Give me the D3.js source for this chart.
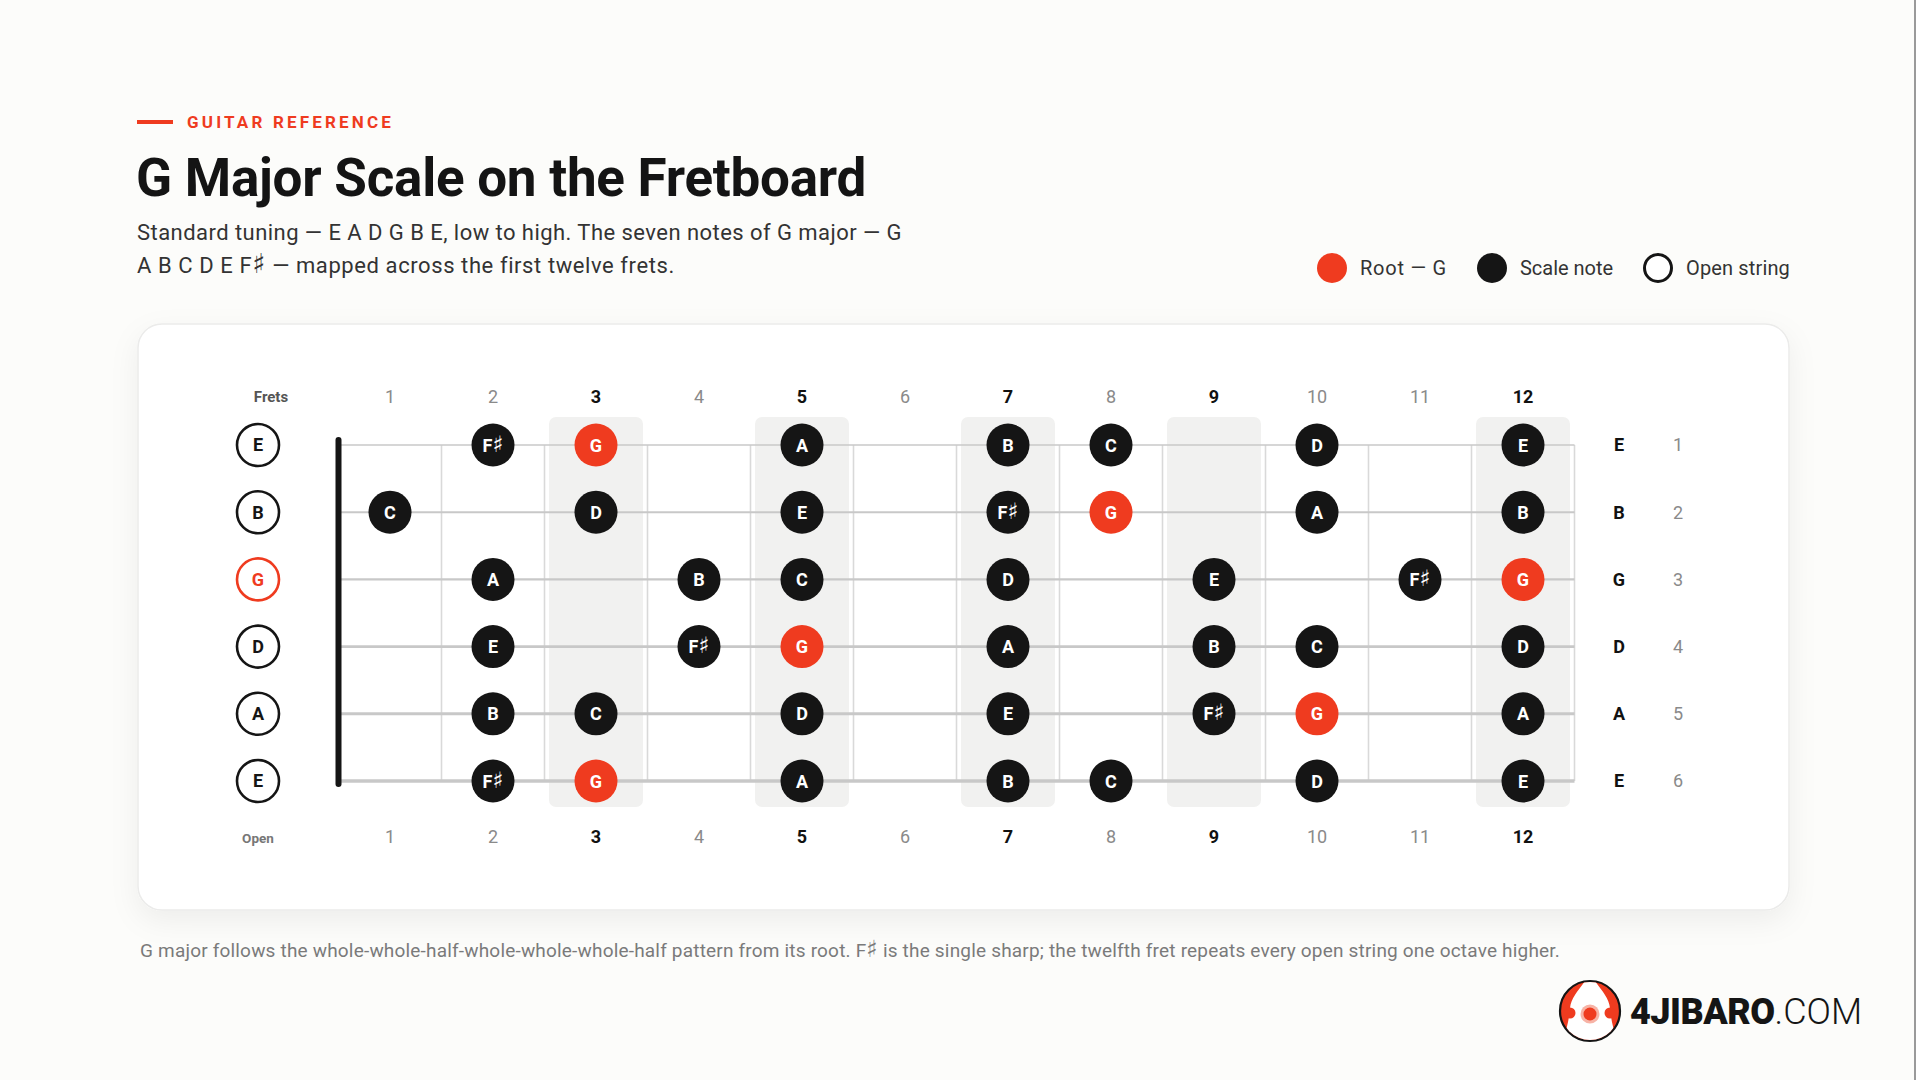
<!DOCTYPE html>
<html lang="en">
<head>
    <meta charset="UTF-8">
    <title>G Major Scale on the Fretboard</title>
    <script src="https://cdn.jsdelivr.net/npm/d3@7"></script>
    <style>
        html, body { margin: 0; padding: 0; background: #fcfcfa; overflow: hidden; }
        svg { display: block; font-family: Roboto, "Noto Sans", sans-serif; }
    </style>
</head>
<body>
<script type="text/javascript">
    var width = 1916;
    var height = 1080;

    // strings, top (1, high E) to bottom (6, low E)
    var stringNames = ["E", "B", "G", "D", "A", "E"];
    var stringNumbers = [1, 2, 3, 4, 5, 6];
    var fretNumbers = [1, 2, 3, 4, 5, 6, 7, 8, 9, 10, 11, 12];
    var markerFrets = [3, 5, 7, 9, 12];
    var rootNote = "G";

    // fret of every scale note on each string
    var noteFrets = [
        [2, 3, 5, 7, 8, 10, 12],
        [1, 3, 5, 7, 8, 10, 12],
        [2, 4, 5, 7, 9, 11, 12],
        [2, 4, 5, 7, 9, 10, 12],
        [2, 3, 5, 7, 9, 10, 12],
        [2, 3, 5, 7, 8, 10, 12]
    ];
    var noteNames = [
        ["F♯", "G", "A", "B", "C", "D", "E"],
        ["C", "D", "E", "F♯", "G", "A", "B"],
        ["A", "B", "C", "D", "E", "F♯", "G"],
        ["E", "F♯", "G", "A", "B", "C", "D"],
        ["B", "C", "D", "E", "F♯", "G", "A"],
        ["F♯", "G", "A", "B", "C", "D", "E"]
    ];

    var legendItems = ["Root — G", "Scale note", "Open string"];

    var red = "#ef3b1f";
    var ink = "#151515";

    var svg = d3.select("body").append("svg")
            .attr("width", width)
            .attr("height", height);

    // squeeze/stretch tracking so a text line spans the width seen in the picture
    function fit(sel, target) {
        var w = sel.node().getComputedTextLength();
        var n = sel.text().length;
        sel.attr("letter-spacing", (target - w) / n);
        return sel;
    }

    // write text, drawing the sharp sign bigger with a font that has one
    function sharpText(sel, str) {
        str.split(/(♯)/).forEach(function (part) {
            if (!part) return;
            var t = sel.append("tspan").text(part);
            if (part === "♯") {
                t.attr("font-family", "'DejaVu Sans', sans-serif")
                 .attr("font-weight", 400)
                 .attr("font-size", "1.25em");
            }
        });
        return sel;
    }

    var defs = svg.append("defs");
    var shadow = defs.append("filter").attr("id", "cardShadow")
            .attr("x", "-5%").attr("y", "-10%").attr("width", "110%").attr("height", "130%");
    shadow.append("feDropShadow")
            .attr("dx", 0).attr("dy", 10).attr("stdDeviation", 14)
            .attr("flood-color", "#000").attr("flood-opacity", 0.06);

    // right border of the page
    svg.append("line")
            .attr("x1", 1915).attr("x2", 1915).attr("y1", 0).attr("y2", height)
            .attr("stroke", "#9a9a9a").attr("stroke-width", 2);

    // ---------- header ----------
    svg.append("rect")
            .attr("x", 137).attr("y", 120).attr("width", 36).attr("height", 4)
            .attr("fill", red);
    fit(svg.append("text")
            .attr("x", 187).attr("y", 128)
            .attr("font-size", 17).attr("font-weight", 700)
            .attr("fill", red)
            .text("GUITAR REFERENCE"), 207);

    fit(svg.append("text")
            .attr("x", 136).attr("y", 196)
            .attr("font-size", 53).attr("font-weight", 700)
            .attr("fill", "#141414")
            .text("G Major Scale on the Fretboard"), 730);

    fit(svg.append("text")
            .attr("x", 137).attr("y", 240)
            .attr("font-size", 22).attr("fill", "#333")
            .text("Standard tuning — E A D G B E, low to high. The seven notes of G major — G"), 765);
    fit(sharpText(svg.append("text")
            .attr("x", 137).attr("y", 273)
            .attr("font-size", 22).attr("fill", "#333"),
            "A B C D E F♯ — mapped across the first twelve frets."), 537);

    // ---------- legend ----------
    var legendX = [1332, 1492, 1658];
    var legendW = [87, 93, 104];
    var legend = svg.append("g").selectAll("g")
            .data(legendItems)
            .enter().append("g")
            .attr("transform", function (d, i) { return "translate(" + legendX[i] + ",268)"; });
    legend.append("circle")
            .attr("r", function (d, i) { return i === 2 ? 13.5 : 15; })
            .attr("fill", function (d, i) { return i === 0 ? red : (i === 1 ? ink : "#fff"); })
            .attr("stroke", function (d, i) { return i === 2 ? ink : "none"; })
            .attr("stroke-width", 3);
    legend.append("text")
            .attr("x", 28).attr("y", 7)
            .attr("font-size", 20).attr("fill", "#333")
            .text(function (d) { return d; })
            .each(function (d, i) { fit(d3.select(this), legendW[i]); });

    // ---------- card ----------
    svg.append("rect")
            .attr("x", 138).attr("y", 324).attr("width", 1651).attr("height", 586)
            .attr("rx", 24)
            .attr("fill", "#fff")
            .attr("stroke", "#ebebea").attr("stroke-width", 1.5)
            .attr("filter", "url(#cardShadow)");

    // ---------- fretboard scales ----------
    var xScale = d3.scaleLinear()
            .domain([0, 12])
            .range([338.5, 1574.5]);
    var noteX = function (f) { return xScale(f - 0.5); };
    var yScale = d3.scalePoint()
            .domain(stringNumbers)
            .range([445, 781]);

    var board = svg.append("g");

    // marker columns
    board.selectAll("rect.marker")
            .data(markerFrets)
            .enter().append("rect")
            .attr("class", "marker")
            .attr("x", function (d) { return noteX(d) - 47; })
            .attr("y", 417).attr("width", 94).attr("height", 390)
            .attr("rx", 7)
            .attr("fill", "#f1f1f0");

    // fret wires
    board.selectAll("line.fret")
            .data(fretNumbers)
            .enter().append("line")
            .attr("class", "fret")
            .attr("x1", function (d) { return xScale(d); })
            .attr("x2", function (d) { return xScale(d); })
            .attr("y1", yScale(1)).attr("y2", yScale(6))
            .attr("stroke", "#d9d9d9").attr("stroke-width", 1.6);

    // strings, thicker toward the low E
    board.selectAll("line.string")
            .data(stringNumbers)
            .enter().append("line")
            .attr("class", "string")
            .attr("x1", xScale(0)).attr("x2", xScale(12))
            .attr("y1", function (d) { return yScale(d); })
            .attr("y2", function (d) { return yScale(d); })
            .attr("stroke", "#c8c8c8")
            .attr("stroke-width", function (d) { return 1.3 + d * 0.35; });

    // nut
    board.append("line")
            .attr("x1", xScale(0)).attr("x2", xScale(0))
            .attr("y1", 440).attr("y2", 784)
            .attr("stroke", ink).attr("stroke-width", 6)
            .attr("stroke-linecap", "round");

    // fret numbers top and bottom
    [397, 837].forEach(function (y) {
        board.append("g").selectAll("text")
                .data(fretNumbers)
                .enter().append("text")
                .attr("x", function (d) { return noteX(d); })
                .attr("y", y)
                .attr("dy", "0.36em")
                .attr("text-anchor", "middle")
                .attr("font-size", 18)
                .attr("font-weight", function (d) { return markerFrets.indexOf(d) >= 0 ? 700 : 400; })
                .attr("fill", function (d) { return markerFrets.indexOf(d) >= 0 ? "#111" : "#8a8a8a"; })
                .text(function (d) { return d; });
    });
    board.append("text")
            .attr("x", 271).attr("y", 397).attr("dy", "0.36em")
            .attr("text-anchor", "middle")
            .attr("font-size", 15).attr("font-weight", 700).attr("fill", "#555")
            .text("Frets");
    board.append("text")
            .attr("x", 258).attr("y", 838).attr("dy", "0.36em")
            .attr("text-anchor", "middle")
            .attr("font-size", 13.5).attr("font-weight", 700).attr("fill", "#777")
            .text("Open");

    // open strings
    var open = board.append("g").selectAll("g")
            .data(stringNumbers)
            .enter().append("g")
            .attr("transform", function (d) { return "translate(258," + yScale(d) + ")"; });
    open.append("circle")
            .attr("r", 21)
            .attr("fill", "#fff")
            .attr("stroke", function (d, i) { return stringNames[i] === rootNote ? red : ink; })
            .attr("stroke-width", 2.6);
    open.append("text")
            .attr("text-anchor", "middle").attr("dy", "0.36em")
            .attr("font-size", 18).attr("font-weight", 700)
            .attr("fill", function (d, i) { return stringNames[i] === rootNote ? red : ink; })
            .text(function (d, i) { return stringNames[i]; });

    // right labels
    board.append("g").selectAll("text")
            .data(stringNumbers)
            .enter().append("text")
            .attr("x", 1619).attr("y", function (d) { return yScale(d); })
            .attr("dy", "0.36em").attr("text-anchor", "middle")
            .attr("font-size", 18).attr("font-weight", 700).attr("fill", "#111")
            .text(function (d, i) { return stringNames[i]; });
    board.append("g").selectAll("text")
            .data(stringNumbers)
            .enter().append("text")
            .attr("x", 1678).attr("y", function (d) { return yScale(d); })
            .attr("dy", "0.36em").attr("text-anchor", "middle")
            .attr("font-size", 18).attr("fill", "#8a8a8a")
            .text(function (d) { return d; });

    // scale notes
    var notes = [];
    stringNumbers.forEach(function (s, i) {
        noteFrets[i].forEach(function (f, j) {
            notes.push({string: s, fret: f, name: noteNames[i][j]});
        });
    });
    var note = board.append("g").selectAll("g")
            .data(notes)
            .enter().append("g")
            .attr("transform", function (d) { return "translate(" + noteX(d.fret) + "," + yScale(d.string) + ")"; });
    note.append("circle")
            .attr("r", 21.5)
            .attr("fill", function (d) { return d.name === rootNote ? red : ink; });
    note.append("text")
            .attr("text-anchor", "middle").attr("y", 6.5)
            .attr("font-size", 18).attr("font-weight", 700)
            .attr("fill", "#fff")
            .each(function (d) { sharpText(d3.select(this), d.name); });

    // ---------- footnote ----------
    fit(sharpText(svg.append("text")
            .attr("x", 140).attr("y", 957)
            .attr("font-size", 19).attr("fill", "#7a7a7a"),
            "G major follows the whole-whole-half-whole-whole-whole-half pattern from its root. F♯ is the single sharp; the twelfth fret repeats every open string one octave higher."), 1420);

    // ---------- logo ----------
    var logo = svg.append("g").attr("transform", "translate(1590,1011)");
    defs.append("clipPath").attr("id", "logoClip")
            .append("circle").attr("r", 29);
    logo.append("circle").attr("r", 30).attr("fill", red)
            .attr("stroke", ink).attr("stroke-width", 2.2);
    var inner = logo.append("g").attr("clip-path", "url(#logoClip)");
    inner.append("path")
            .attr("d", "M-5,-30 C-12,-20 -19,-13 -20,-3 C-21,8 -23,20 -29,32 L29,32 C23,20 21,8 20,-3 C19,-13 12,-20 5,-30 Z")
            .attr("fill", "#fff");
    inner.selectAll("circle.ear")
            .data([-20, 20])
            .enter().append("circle")
            .attr("class", "ear")
            .attr("cx", function (d) { return d; }).attr("cy", 2).attr("r", 5.5)
            .attr("fill", red);
    inner.append("circle").attr("cy", 3).attr("r", 9.5).attr("fill", "#f7b3a6");
    inner.append("circle").attr("cy", 3).attr("r", 6.5).attr("fill", red);
    var logoText = svg.append("text")
            .attr("x", 1630).attr("y", 1024)
            .attr("font-size", 36).attr("fill", ink);
    logoText.append("tspan").attr("font-weight", 900).attr("letter-spacing", -0.5).text("4JIBARO");
    logoText.append("tspan").attr("font-weight", 300).text(".COM");

</script>
</body>
</html>
